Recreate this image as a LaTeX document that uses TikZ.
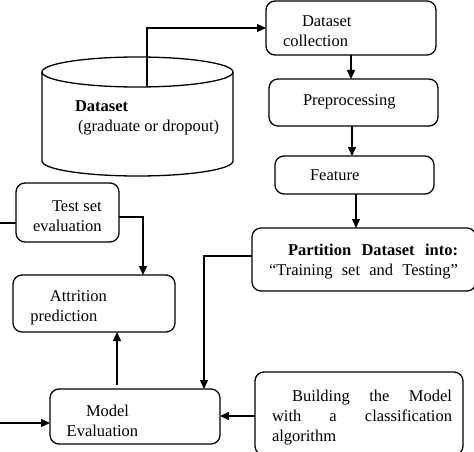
\documentclass[tikz,border=0pt]{standalone}
\usepackage{fontspec}
\setmainfont{Liberation Serif}
\usetikzlibrary{arrows.meta}
\begin{document}
\begin{tikzpicture}[x=1pt,y=-1pt,
 box/.style={draw, line width=1.3pt, rounded corners=9pt, inner sep=0pt, outer sep=0pt},
 txt/.style={inner sep=0pt, outer sep=0pt, anchor=base west, align=left, font=\fontsize{16.5}{20}\selectfont},
 arr/.style={line width=1.3pt, -{Triangle[length=9pt,width=8pt]}},
 ln/.style={line width=1.3pt}]
\useasboundingbox (0,0) rectangle (474,452);
\fill[white] (0,0) rectangle (474,452);
% boxes
\node[box, minimum width=170pt, minimum height=54pt] (coll) at (351,28) {};
\node[box, minimum width=169pt, minimum height=47pt] (prep) at (353.5,102.5) {};
\node[box, minimum width=159pt, minimum height=38pt] (feat) at (354.5,175) {};
\node[box, minimum width=224pt, minimum height=63pt] (part) at (364,259.5) {};
\node[box, minimum width=103pt, minimum height=59pt] (test) at (67.5,212.5) {};
\node[box, minimum width=162pt, minimum height=57pt] (attr) at (94,303.5) {};
\node[box, minimum width=170pt, minimum height=55pt] (model) at (135,416.5) {};
\node[box, minimum width=208pt, minimum height=83pt] (build) at (359,413.5) {};
% cylinder
\draw[ln] (137.5,72) ellipse [x radius=95.5pt, y radius=15pt];
\draw[ln] (42,72) -- (42,161) arc[start angle=180, end angle=360, x radius=95.5pt, y radius=15pt] -- (233,72);
\coordinate (cyltop) at (147,87);
% texts (two-line nodes: base = last line)
\node[txt] (tds) at (75,131) {\textbf{Dataset}\\\hspace*{3pt}(graduate or dropout)};
\node[txt] (tcoll) at (283,46.7) {\hspace*{19pt}Dataset\\collection};
\node[txt] (tprep) at (303,105) {Preprocessing};
\node[txt] (tfeat) at (310,180.7) {Feature};
\node[txt, text width=189pt] (tpart) at (269,255) {\hspace*{19pt}\textbf{Partition\hfill Dataset\hfill into:}\\“Training\hfill set\hfill and\hfill Testing”};
\node[txt, text width=180pt] (tbuild) at (272,401.7) {\hspace*{20pt}Building\hfill the\hfill Model\\with\hfill a\hfill classification\\algorithm};
\node[txt] (ttest) at (33,231) {\hspace*{19pt}Test set\\evaluation};
\node[txt] (tattr) at (30.5,321.7) {\hspace*{19.5pt}Attrition\\prediction};
\node[txt] (tmodel) at (66.7,436) {\hspace*{19.3pt}Model\\Evaluation};
% connectors
\draw[arr] (cyltop) |- (coll.west);
\draw[arr] (coll.south) -- (coll.south |- prep.north);
\coordinate (ps) at ([xshift=-1.5pt]prep.south);
\draw[arr] (ps) -- (ps |- feat.north);
\coordinate (fs) at ([xshift=1.5pt]feat.south);
\draw[arr] (fs) -- (fs |- part.north);
\coordinate (pw) at ([yshift=3.5pt]part.west);
\coordinate (mt) at ([xshift=-16pt]model.north east);
\draw[arr] (pw) -| (mt);
\coordinate (te) at ([yshift=-4.5pt]test.east);
\coordinate (at) at ([xshift=49pt]attr.north);
\draw[arr] (te) -| (at);
\coordinate (in1) at (0,223);
\draw[ln] (in1) -- (in1 -| test.west);
\coordinate (mup) at ([xshift=-18pt,yshift=4pt]model.north);
\draw[arr] (mup) -- (mup |- attr.south);
\coordinate (in2) at (0,423);
\draw[arr] (in2) -- (in2 -| model.west);
\coordinate (bl) at ([yshift=-2.5pt]build.west);
\draw[arr] (bl) -- (bl -| model.east);
\end{tikzpicture}
\end{document}
